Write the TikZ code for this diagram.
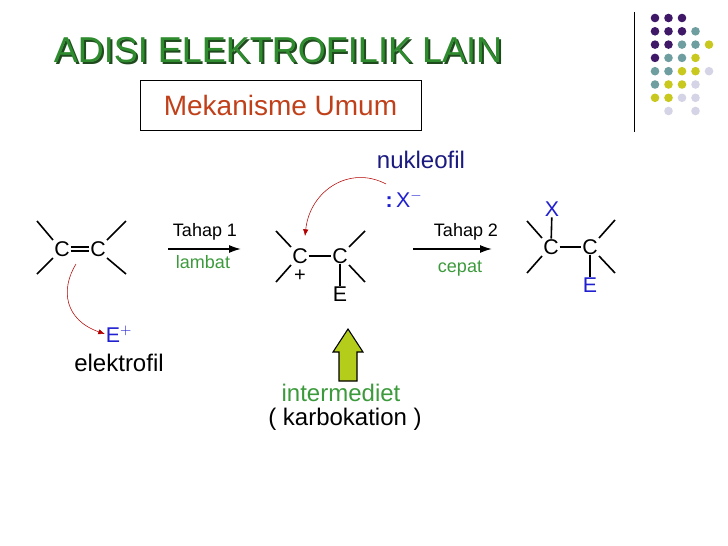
\documentclass[tikz,border=0pt]{standalone}
\usepackage{fontspec}
\setmainfont{Liberation Sans}
\usetikzlibrary{arrows.meta}
\begin{document}
\begin{tikzpicture}[x=0.75pt,y=-0.75pt,
  bond/.style={line width=1.2pt},
  atom/.style={font=\fontsize{16}{18}\selectfont,inner sep=0.5pt},
  small/.style={font=\fontsize{13.5}{15}\selectfont,inner sep=0pt},
  mid/.style={font=\fontsize{18}{20}\selectfont,inner sep=0pt},
  rarrow/.style={draw=red!70!black,-{Latex[length=5pt,width=4pt]}},
  rxn/.style={line width=1.2pt,-{Latex[length=9pt,width=6pt]}}]
\useasboundingbox (0,0) rectangle (728,546);
\definecolor{pur}{HTML}{3F1868}\definecolor{tea}{HTML}{6E9EA0}
\definecolor{yel}{HTML}{C8C81E}\definecolor{lav}{HTML}{D4D4E6}
\definecolor{grn}{HTML}{2E8B2E}\definecolor{dgrn}{HTML}{1E4A1E}
\definecolor{org}{HTML}{C0401A}\definecolor{blu}{HTML}{2020D0}
\definecolor{nav}{HTML}{1A1A80}\definecolor{lgr}{HTML}{3C9A3C}
% title
\node[font=\fontsize{27}{30}\selectfont,text=dgrn] at (280,52) {ADISI ELEKTROFILIK LAIN};
\node (title) [font=\fontsize{27}{30}\selectfont,text=grn] at (278,50) {ADISI ELEKTROFILIK LAIN};
\node (box) [draw,minimum width=281*0.75pt,minimum height=50*0.75pt,text=org,font=\fontsize{21}{24}\selectfont] at (280.5,105) {Mekanisme Umum};
% decoration
\draw (634,12) -- (634,132);
\foreach \r/\row in {0/{pur,pur,pur},1/{pur,pur,pur,tea},2/{pur,pur,tea,tea,yel},3/{pur,tea,tea,yel},4/{tea,tea,yel,yel,lav},5/{tea,yel,yel,lav},6/{yel,yel,lav,lav}}{
  \foreach \c [count=\i from 0] in \row {\fill[\c] (655+13.5*\i,18+13.3*\r) circle (4.3);}}
\fill[lav] (668.5,111) circle (4.3); \fill[lav] (695.5,111) circle (4.3);
% molecule 1
\node[atom] (a1) at (62,249) {C};
\node[atom] (a2) at (98,249) {C};
\draw[bond] ([yshift=-1.6pt]a1.east) -- ([yshift=-1.6pt]a2.west);
\draw[bond] ([yshift=1.6pt]a1.east) -- ([yshift=1.6pt]a2.west);
\draw[bond] (a1) ++(-9,-9) -- (37,221); \draw[bond] (a1) ++(-9,9) -- (37,274);
\draw[bond] (a2) ++(9,-9) -- (126,221); \draw[bond] (a2) ++(9,9) -- (126,274);
\node[atom,text=blu] (ep) at (119,334) {E$^{\scriptstyle +}$};
\node[mid] (elk) at (119,363) {elektrofil};
\draw[rarrow] (76,264) .. controls (60,290) and (65,320) .. (ep.west);
% arrow 1
\coordinate (s1) at (168,249); \coordinate (e1) at (241,249);
\draw[rxn] (s1) -- (e1);
\node[small] (t1) at (205,232) {Tahap 1};
\node[small,text=lgr] (l1) at (203,262) {lambat};
% molecule 2
\node[atom] (b1) at (300,256) {C};
\node[atom] (b2) at (340,256) {C};
\draw[bond] (b1) -- (b2);
\draw[bond] (b1) ++(-9,-9) -- (276,231); \draw[bond] (b1) ++(-9,9) -- (276,282);
\draw[bond] (b2) ++(9,-9) -- (365,231); \draw[bond] (b2) ++(9,9) -- (365,282);
\node[small,font=\fontsize{15}{16}\selectfont] (plus) at (300,276) {+};
\node[atom] (be) at (340,294) {E};
\draw[bond] (b2) -- (be);
\node[mid,text=nav] (nuk) at (421,160) {nukleofil};
\node[atom,text=blu] (x) at (404,199) {\textbf{:}\,X$^{\scriptstyle -}$};
\draw[rarrow] (386,184) .. controls (350,165) and (310,190) .. (305,236);
% arrow 2
\coordinate (s2) at (413,249); \coordinate (e2) at (492,249);
\draw[rxn] (s2) -- (e2);
\node[small] (t2) at (466,232) {Tahap 2};
\node[small,text=lgr] (l2) at (460,269) {cepat};
% molecule 3
\node[atom] (c1) at (551,247) {C};
\node[atom] (c2) at (590,247) {C};
\draw[bond] (c1) -- (c2);
\draw[bond] (c1) ++(-9,-9) -- (527,221); \draw[bond] (c1) ++(-9,9) -- (527,273);
\draw[bond] (c2) ++(9,-9) -- (615,220); \draw[bond] (c2) ++(9,9) -- (615,273);
\node[atom,text=blu] (cx) at (552,209) {X};
\node[atom,text=blu] (ce) at (590,285) {E};
\draw[bond] (c1) -- (cx); \draw[bond] (c2) -- (ce);
% big arrow
\draw[fill=yel!90!green,line width=0.8pt] (339,381) -- (339,352) -- (333,352) -- (348,329) -- (363,352) -- (357,352) -- (357,381) -- cycle;
\node[mid,text=lgr] (int) at (341,393) {intermediet};
\node[mid] (kar) at (345,419) {( karbokation )};
\end{tikzpicture}
\end{document}
